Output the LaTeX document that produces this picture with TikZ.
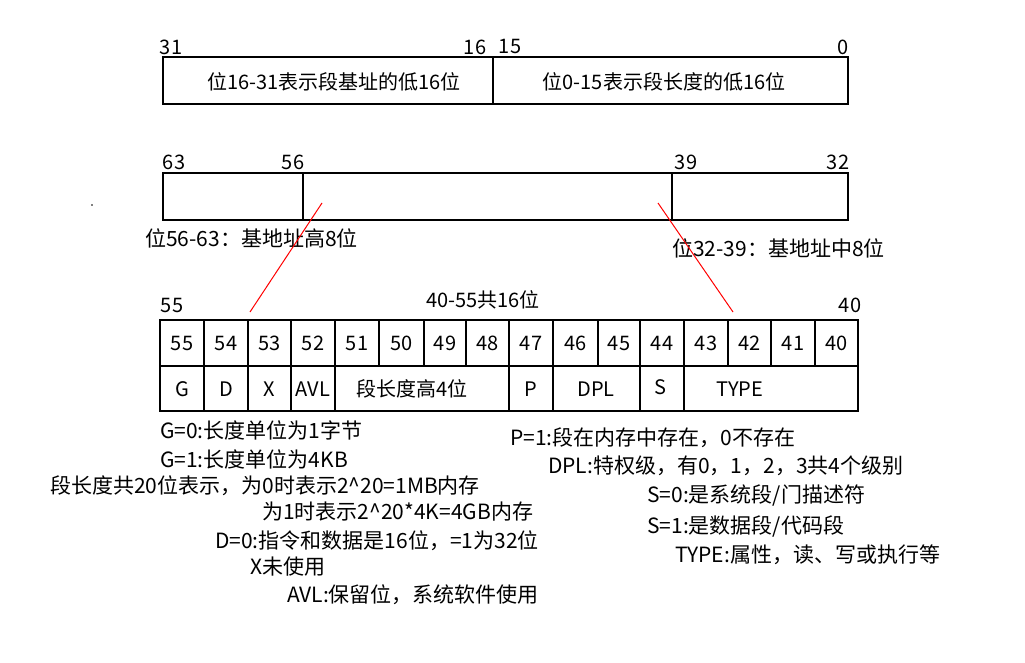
\documentclass[tikz,border=0pt]{standalone}
\usepackage{fontspec}
\setmainfont{Noto Sans CJK SC}
\begin{document}
\begin{tikzpicture}[x=1pt,y=-1pt,
  box/.style={draw,line width=1.2pt},
  lbl/.style={font=\fontsize{20}{22}\selectfont,inner sep=0pt},
  note/.style={font=\fontsize{21}{22}\selectfont,inner sep=0pt,anchor=west},
  redl/.style={red,line width=1pt}]
\useasboundingbox (0,0) rectangle (1025,663);
% box 1
\draw[box] (163,57) rectangle (848,104);
\draw[box] (493,57) -- (493,104);
\node[lbl] (b31) at (171,47) {31};
\node[lbl] (b16) at (475,47) {16};
\node[lbl] (b15) at (510,47) {15};
\node[lbl] (b0) at (843,47) {0};
\node[lbl] (t1) at (334,82) {位16-31表示段基址的低16位};
\node[lbl] (t2) at (664,82) {位0-15表示段长度的低16位};
% box 2
\draw[box] (163,173) rectangle (848,220);
\draw[box] (303,173) -- (303,220);
\draw[box] (672,173) -- (672,220);
\node[lbl] (b63) at (174,162) {63};
\node[lbl] (b56) at (293,162) {56};
\node[lbl] (b39) at (686,162) {39};
\node[lbl] (b32) at (838,162) {32};
\node[note] (h1) at (145,238) {位56-63：基地址高8位};
\node[note] (h2) at (672,248) {位32-39：基地址中8位};
\fill (92,205) circle (0.8);
% red lines
\coordinate (r1a) at (322,203); \coordinate (r1b) at (250,312);
\coordinate (r2a) at (658,203); \coordinate (r2b) at (733,312);
\draw[redl] (r1a) -- (r1b);
\draw[redl] (r2a) -- (r2b);
% table
\node[lbl] (l55) at (172,305) {55};
\node[lbl] (l4055) at (483,300) {40-55共16位};
\node[lbl] (l40) at (850,305) {40};
\draw[box] (160,320) rectangle (858,411);
\draw[box] (160,366) -- (858,366);
\foreach \x in {204,248,291,335,379,424,466,509,553,598,640,684,728,771,815}{
  \draw[box] (\x,320) -- (\x,366);
}
\foreach \a/\b/\n in {160/204/55,204/248/54,248/291/53,291/335/52,335/379/51,379/424/50,424/466/49,466/509/48,509/553/47,553/598/46,598/640/45,640/684/44,684/728/43,728/771/42,771/815/41,815/858/40}{
  \node[lbl] at ({(\a+\b)/2},343) {\n};
}
\foreach \x in {204,248,291,335,509,553,640,684}{ \draw[box] (\x,366) -- (\x,411); }
\node[lbl] (fG) at (182,389) {G};
\node[lbl] (fD) at (226,389) {D};
\node[lbl] (fX) at (269,389) {X};
\node[lbl] (fA) at (313,389) {AVL};
\node[lbl] (fL) at (412,389) {段长度高4位};
\node[lbl] (fP) at (531,389) {P};
\node[lbl] (fDPL) at (596,389) {DPL};
\node[lbl] (fS) at (660,387) {S};
\node[lbl] (fT) at (740,389) {TYPE};
% notes
\node[note] at (160,430) {G=0:长度单位为1字节};
\node[note] at (160,459) {G=1:长度单位为4KB};
\node[note] at (50,486) {段长度共20位表示，为0时表示2\^{}20=1MB内存};
\node[note] at (262,512) {为1时表示2\^{}20*4K=4GB内存};
\node[note] at (215,541) {D=0:指令和数据是16位，=1为32位};
\node[note] at (250,567) {X未使用};
\node[note] at (287,595) {AVL:保留位，系统软件使用};
\node[note] at (510,438) {P=1:段在内存中存在，0不存在};
\node[note] at (548,466) {DPL:特权级，有0，1，2，3共4个级别};
\node[note] at (647,495) {S=0:是系统段/门描述符};
\node[note] at (647,526) {S=1:是数据段/代码段};
\node[note] at (675,555) {TYPE:属性，读、写或执行等};
\end{tikzpicture}
\end{document}
